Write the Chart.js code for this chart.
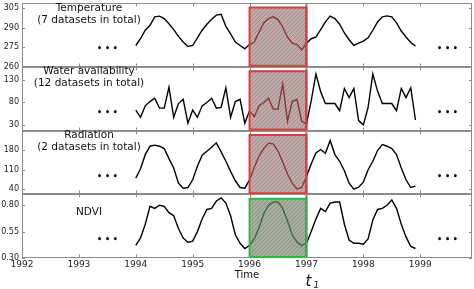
<!DOCTYPE html>
<html lang="en">
<head>
<meta charset="UTF-8" />
<title>Input time series</title>
<script src="https://cdn.jsdelivr.net/npm/chart.js"></script>
<style>
  body { margin: 0; background: #ffffff; }
  #wrap { width: 474px; height: 289px; }
</style>
</head>
<body>
<div id="wrap"><canvas id="panels" width="474" height="289"></canvas></div>
<script>
  // monthly samples, first one is January 1994
  const startYear = 1994;
  const yearTicks = [1992, 1993, 1994, 1995, 1996, 1997, 1998, 1999];
  const windowStart = 1996;
  const windowEnd = 1997;

  const temperature = [276.3, 281.5, 288, 291.8, 298.3, 298.8, 297, 293, 288.5, 283.3, 279, 275.5,
    276.3, 282.2, 288, 292.6, 296.5, 299.6, 300.3, 291, 285.3, 278.9, 276.3, 273.7,
    277, 278.9, 286.6, 293.6, 297, 298.3, 296.2, 290.5, 282.8, 278.1, 277, 272.9,
    278.1, 281.5, 282.8, 288.5, 294.4, 298.8, 297, 292.6, 285.9, 280.7, 276.3, 278.1,
    279.7, 282.2, 288, 294.4, 298.3, 299, 298.3, 293.6, 287.4, 282.8, 278.6, 275.8];
  const water = [62.6, 46.7, 72, 81.4, 88.7, 67, 67, 113.3, 46.7, 77, 86.5, 33.6,
    62.6, 46.7, 72, 79.3, 88.7, 67, 68.4, 111.9, 46.7, 81.4, 86.5, 33.6,
    61.2, 48, 72, 79.3, 88.7, 64.8, 64.8, 120.6, 38, 81.4, 86.5, 38,
    32.2, 82.9, 142.3, 103.2, 77.1, 77.1, 77.1, 61.2, 110.4, 90.1, 110.4, 39.4,
    30, 68.4, 142.3, 104.6, 77.1, 77.1, 77.1, 61.2, 110.4, 90.1, 111.9, 40.8];
  const radiation = [79.5, 113, 163, 193, 196.7, 193, 184.8, 149, 115.4, 61.6, 43.6, 46,
    73.5, 121.4, 161, 175, 189.6, 205, 172.8, 139.3, 103.4, 70, 46, 43.6,
    73.5, 117.8, 157.3, 184.8, 203.9, 201.5, 175.2, 137, 93.9, 61.6, 41.2, 46,
    85.5, 129.8, 169.2, 181.2, 168, 213.5, 163.3, 139.3, 105.8, 61.6, 40, 47.2,
    65.2, 109.4, 139.3, 177.6, 199.1, 193, 184.8, 163.3, 115.4, 73.5, 46, 50.8];
  const ndvi = [0.42, 0.49, 0.62, 0.79, 0.77, 0.80, 0.79, 0.73, 0.70, 0.58, 0.49, 0.45,
    0.46, 0.55, 0.67, 0.76, 0.77, 0.84, 0.87, 0.82, 0.70, 0.52, 0.44, 0.39,
    0.42, 0.48, 0.59, 0.72, 0.80, 0.83, 0.83, 0.77, 0.65, 0.52, 0.45, 0.42,
    0.44, 0.55, 0.67, 0.77, 0.74, 0.82, 0.83, 0.83, 0.62, 0.47, 0.44, 0.44,
    0.43, 0.48, 0.66, 0.76, 0.77, 0.80, 0.85, 0.77, 0.62, 0.50, 0.41, 0.39];

  const tempTicks = [260, 275, 290, 305];
  const waterTicks = [30, 80, 130];
  const radTicks = [40, 110, 180];
  const ndviTicks = [0.30, 0.55, 0.80];

  const titles = [
    ['Temperature', '(7 datasets in total)'],
    ['Water availability', '(12 datasets in total)'],
    ['Radiation', '(2 datasets in total)'],
    ['NDVI']
  ];

  const RED = { edge: '#e03a3a', base: '#bfaaaa', stripe: '#a68e8e', line: '#8a3838' };
  const GREEN = { edge: '#36b448', base: '#a6ac9e', stripe: '#8c9486', line: '#3f6a40' };

  const panels = [
    { id: 'yT', values: temperature, ticks: tempTicks, min: 260, max: 308.9, dec: 0, title: titles[0], look: RED },
    { id: 'yW', values: water, ticks: waterTicks, min: 17.6, max: 158.3, dec: 0, title: titles[1], look: RED },
    { id: 'yR', values: radiation, ticks: radTicks, min: 22, max: 249, dec: 0, title: titles[2], look: RED },
    { id: 'yN', values: ndvi, ticks: ndviTicks, min: 0.30, max: 0.904, dec: 2, title: titles[3], look: GREEN }
  ];

  Chart.defaults.font.family = "'DejaVu Sans', sans-serif";

  function hatch(ctx, base, stripe) {
    const c = document.createElement('canvas');
    c.width = 4; c.height = 4;
    const g = c.getContext('2d');
    g.fillStyle = base;
    g.fillRect(0, 0, 4, 4);
    g.strokeStyle = stripe;
    g.lineWidth = 1;
    g.beginPath(); g.moveTo(0, 4); g.lineTo(4, 0); g.stroke();
    return ctx.createPattern(c, 'repeat');
  }

  const inWindow = c => c.p0.parsed.x >= windowStart && c.p1.parsed.x <= windowEnd;

  const datasets = panels.map(p => ({
    data: p.values.map((v, i) => ({ x: startYear + i / 12, y: v })),
    yAxisID: p.id,
    borderColor: '#000',
    borderWidth: 1.4,
    pointRadius: 0,
    tension: 0,
    segment: { borderColor: c => inWindow(c) ? p.look.line : '#000' }
  }));

  const scales = {
    x: {
      type: 'linear', min: 1992, max: 1999.91,
      grid: { display: false, drawTicks: false }, border: { display: false },
      ticks: { autoSkip: false, font: { size: 9 }, color: '#222', padding: 1, callback: v => String(v) },
      afterBuildTicks: s => { s.ticks = yearTicks.map(v => ({ value: v })); },
      afterFit: s => { s.height = 31; s.paddingLeft = 0; s.paddingRight = 0; },
      title: { display: true, text: 'Time', font: { size: 10 }, color: '#111', padding: { top: 0, bottom: 8 } }
    }
  };
  panels.forEach((p, i) => {
    scales[p.id] = {
      type: 'linear', position: 'left', stack: 'panels', stackWeight: 1, weight: panels.length - i,
      min: p.min, max: p.max,
      grid: { display: false, drawTicks: false }, border: { display: false },
      ticks: { autoSkip: false, font: { size: 8 }, color: '#222', padding: 3, callback: v => v.toFixed(p.dec) },
      afterBuildTicks: s => { s.ticks = p.ticks.map(v => ({ value: v })); },
      afterFit: s => { s.width = 22; s.paddingTop = 0; s.paddingBottom = 0; }
    };
  });

  const decor = {
    id: 'decor',
    beforeDatasetsDraw(chart) {
      const { ctx, chartArea } = chart;
      const xs = chart.scales.x;
      const a = xs.getPixelForValue(windowStart);
      const b = xs.getPixelForValue(windowEnd);
      ctx.save();
      panels.forEach(p => {
        const s = chart.scales[p.id];
        ctx.fillStyle = hatch(ctx, p.look.base, p.look.stripe);
        ctx.fillRect(a, s.top + 4, b - a, s.bottom - s.top - 4);
      });
      // t1 marker
      ctx.strokeStyle = '#000';
      ctx.lineWidth = 1.5;
      ctx.beginPath();
      ctx.moveTo(b, chartArea.top);
      ctx.lineTo(b, chartArea.bottom);
      ctx.stroke();
      ctx.restore();
    },
    afterDatasetsDraw(chart) {
      const { ctx, chartArea } = chart;
      const xs = chart.scales.x;
      const a = xs.getPixelForValue(windowStart);
      const b = xs.getPixelForValue(windowEnd);
      const L = chartArea.left, R = chartArea.right;
      ctx.save();
      panels.forEach(p => {
        const s = chart.scales[p.id];
        const top = Math.round(s.top) + 0.5, bot = Math.round(s.bottom) - 0.5;
        // frame and small inward ticks
        ctx.strokeStyle = '#8c8c8c';
        ctx.lineWidth = 1;
        ctx.strokeRect(L + 0.5, top, R - L - 1, bot - top);
        ctx.beginPath();
        yearTicks.forEach(v => {
          const px = Math.round(xs.getPixelForValue(v)) + 0.5;
          ctx.moveTo(px, top); ctx.lineTo(px, top + 3);
          ctx.moveTo(px, bot); ctx.lineTo(px, bot - 3);
        });
        p.ticks.forEach(v => {
          const py = Math.round(s.getPixelForValue(v)) + 0.5;
          ctx.moveTo(L, py); ctx.lineTo(L + 3, py);
          ctx.moveTo(R, py); ctx.lineTo(R - 3, py);
        });
        ctx.stroke();
        // selected window
        ctx.strokeStyle = p.look.edge;
        ctx.lineWidth = 2;
        ctx.strokeRect(a, s.top + 4.5, b - a, s.bottom - s.top - 5.5);
        // titles
        ctx.fillStyle = '#111';
        ctx.font = "10.5px 'DejaVu Sans'";
        ctx.textAlign = 'center';
        ctx.textBaseline = 'middle';
        if (p.title.length === 2) {
          ctx.fillText(p.title[0], L + 67, s.top + 5);
          ctx.fillText(p.title[1], L + 67, s.top + 17);
        } else {
          ctx.fillText(p.title[0], L + 67, s.top + 18);
        }
        // continuation dots
        ctx.fillStyle = '#000';
        ctx.font = "bold 8px 'DejaVu Sans'";
        ctx.fillText('• • •', L + 85.5, s.top + 46);
        ctx.fillText('• • •', R - 24.5, s.top + 46);
      });
      // t1 label
      ctx.fillStyle = '#111';
      ctx.textAlign = 'left';
      ctx.textBaseline = 'alphabetic';
      ctx.font = "italic 15px 'DejaVu Sans'";
      ctx.fillText('t', b - 1, 286);
      ctx.font = "italic 9px 'DejaVu Sans'";
      ctx.fillText('1', b + 7, 288);
      ctx.restore();
    }
  };

  new Chart(document.getElementById('panels'), {
    type: 'line',
    data: { datasets },
    options: {
      responsive: false,
      devicePixelRatio: 1,
      animation: false,
      layout: { padding: { top: 3, right: 2, left: 0, bottom: 0 } },
      plugins: { legend: { display: false }, tooltip: { enabled: false } },
      scales
    },
    plugins: [decor]
  });
</script>
</body>
</html>
